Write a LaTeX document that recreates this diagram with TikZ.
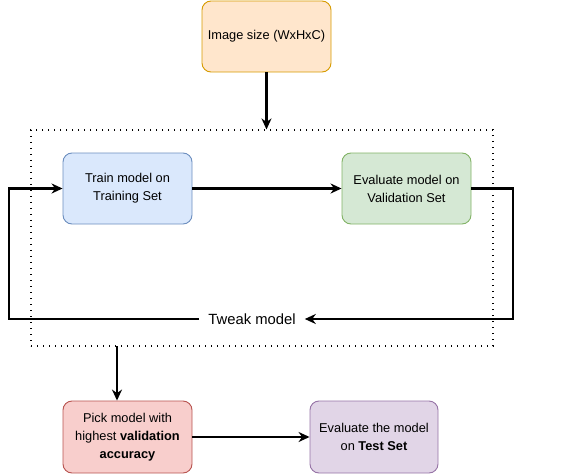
\documentclass[tikz,border=0pt]{standalone}
\usepackage{fontspec}
\setmainfont{Liberation Sans}
\usetikzlibrary{arrows.meta}
\definecolor{orangefill}{HTML}{FFE6CC}
\definecolor{orangeline}{HTML}{D79B00}
\definecolor{bluefill}{HTML}{DAE8FC}
\definecolor{blueline}{HTML}{6C8EBF}
\definecolor{greenfill}{HTML}{D5E8D4}
\definecolor{greenline}{HTML}{82B366}
\definecolor{redfill}{HTML}{F8CECC}
\definecolor{redline}{HTML}{B85450}
\definecolor{purplefill}{HTML}{E1D5E7}
\definecolor{purpleline}{HTML}{9673A6}
\begin{document}
\begin{tikzpicture}[x=1pt,y=-1pt,
  stagebox/.style={rounded corners=9pt, minimum width=129pt, minimum height=71pt,
    align=center, font=\fontsize{12.8}{18}\selectfont, line width=0.9pt},
  flow/.style={line width=2.1pt, -{Stealth[length=11pt,width=10pt]}}]
\useasboundingbox (0,0) rectangle (574,474);
\node [stagebox, draw=orangeline, fill=orangefill] (img) at (266.5,36.5) {Image size (WxHxC)};
\node [draw, line width=1.1pt, dash pattern=on 1.3pt off 4.7pt, minimum width=462pt, minimum height=216pt] (loop) at (262,238) {};
\node [stagebox, draw=blueline, fill=bluefill] (train) at (127.5,188.5) {Train model on\\Training Set};
\node [stagebox, draw=greenline, fill=greenfill] (evalv) at (406.5,188.5) {Evaluate model on\\Validation Set};
\node [font=\fontsize{14.8}{17}\selectfont, inner xsep=9pt] (tweak) at (252,319) {Tweak model};
\node [stagebox, draw=redline, fill=redfill, minimum height=72pt] (pick) at (127.5,437) {Pick model with\\highest \textbf{validation}\\\textbf{accuracy}};
\node [stagebox, draw=purpleline, fill=purplefill, minimum width=128pt, minimum height=72pt] (test) at (374,437) {Evaluate the model\\on \textbf{Test Set}};
\coordinate (rr) at (513,319);
\coordinate (ll) at (9,319);
\coordinate (pin) at (117,346);
\draw [flow] (img.south) -- (img.south |- loop.north);
\draw [flow] (train.east) -- (evalv.west);
\draw [flow] (evalv.east) -| (rr) -- (tweak.east);
\draw [flow] (tweak.west) -- (ll) |- (train.west);
\draw [flow] (pin) -- (pin |- pick.north);
\draw [flow] (pick.east |- test.west) -- (test.west);
\end{tikzpicture}
\end{document}
